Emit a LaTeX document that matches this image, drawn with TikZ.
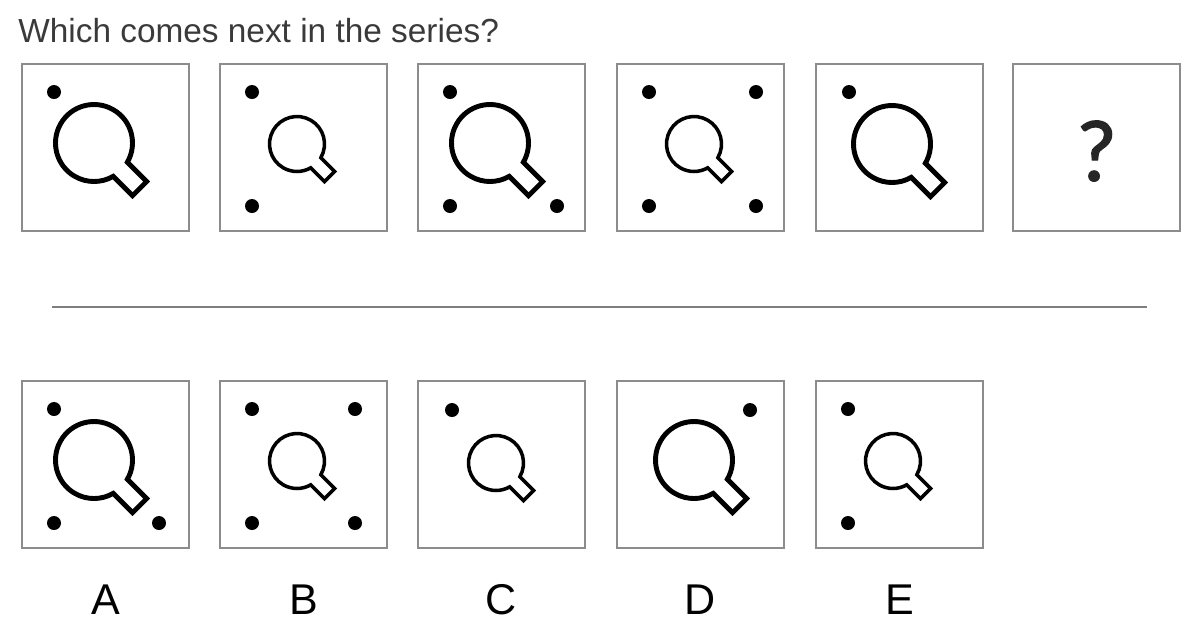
\documentclass[tikz,border=0pt]{standalone}
\usepackage{fontspec}
\setmainfont{Liberation Sans}
\newfontfamily\qmarkfont[FakeBold=1.5]{Carlito}
\usepackage{tikz}
\usetikzlibrary{positioning}
\usepackage{xcolor}
\definecolor{framegray}{HTML}{8C8C8C}
\definecolor{titlegray}{HTML}{3A3A3A}

% Raqueta: centro del circulo (x,y) y tamano relativo
\newcommand{\racket}[3]{%
  \draw[line width=#3*2.8pt, line join=miter, shift={(#1,#2)}, scale=#3, rotate=-45]
    (15.05:38.5) arc[start angle=15.05, end angle=344.95, radius=38.5]
    -- (64.5,-10) -- (64.5,10) -- cycle;}

\begin{document}
\begin{tikzpicture}[x=0.02cm, y=0.02cm,
    frame/.style={draw=framegray, line width=1.1pt, minimum size=167*0.02cm,
      inner sep=0pt, outer sep=0pt, anchor=north west},
    lab/.style={anchor=base, font=\fontsize{24.5}{26}\selectfont},
    qmark/.style={font=\qmarkfont\fontsize{50}{54}\selectfont, text=black!85}]
    \useasboundingbox (0,0) rectangle (1200,-627);

    % Pregunta
    \node[anchor=base west, text=titlegray, inner sep=0pt,
      font=\fontsize{19}{22}\selectfont] (question) at (18,-42) {Which comes next in the series?};

    % Cuadros con raqueta y puntos
    \foreach \n/\bx/\by/\sz/\cx/\cy/\dl in {
        q1/22/64/1/72/79/{32/28},
        q2/220/64/0.714/77/80/{32/28,32/142},
        q3/418/64/1/72/79/{32/28,32/142,139/142},
        q4/617/64/0.714/77/80/{32/28,139/28,32/142,139/142},
        q5/816/64/1/76/80/{33/28},
        a/22/381/1/72/79/{32/28,32/142,137/142},
        b/220/381/0.714/77/80/{32/28,135/28,32/142,135/142},
        c/418/381/0.714/78/82/{34/29},
        d/617/381/1/77/79/{133/29},
        e/816/381/0.714/77/80/{32/28,32/142}} {
        \node[frame] (\n) at (\bx,-\by) {};
        \begin{scope}[shift={(\n.north west)}]
            \foreach \px/\py in \dl
                \fill (\px,-\py) circle[radius=7];
            \racket{\cx}{-\cy}{\sz}
        \end{scope}
    }

    % Cuadro vacio
    \node[frame] (q6) at (1013,-64) {};
    \node[qmark] (qm) at ([yshift=-2]q6.center) {?};

    % Linea separadora
    \coordinate (sepL) at (52,-307);
    \coordinate (sepR) at (1147,-307);
    \draw[framegray!90!black, line width=1.1pt] (sepL) -- (sepR);

    % Letras de las opciones
    \foreach \n/\t in {a/A,b/B,c/C,d/D,e/E}
        \node[lab] (l\n) at (\n.south |- 0,-614) {\t};
\end{tikzpicture}
\end{document}
